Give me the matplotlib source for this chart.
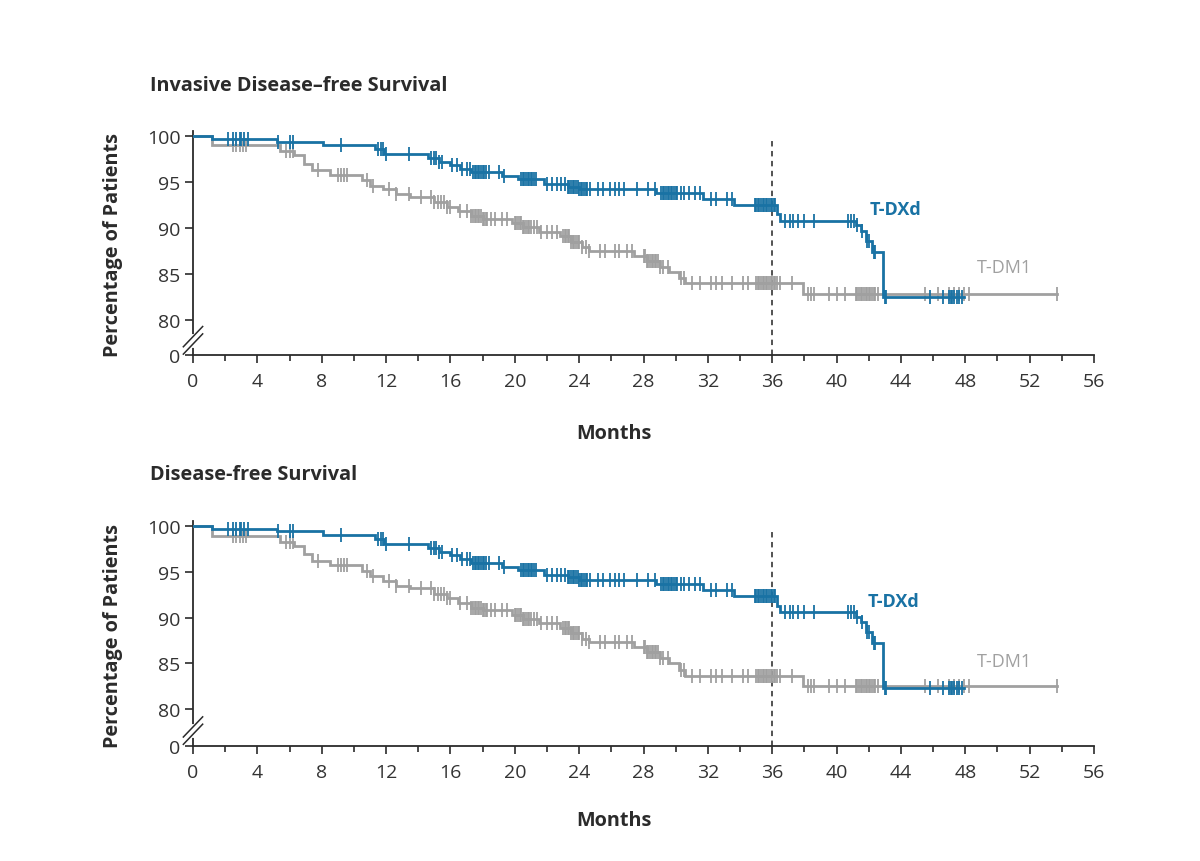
import numpy as np
import matplotlib
matplotlib.use("Agg")
import matplotlib.pyplot as plt

plt.rcParams['font.family'] = ['Open Sans', 'DejaVu Sans']

BLUE = '#1972a4'
GREY = '#a0a0a0'
INK = '#2b2b2b'

# ---------------- Data ----------------
panel_titles = ["Invasive Disease\u2013free Survival", "Disease-free Survival"]
x_ticks = [0, 4, 8, 12, 16, 20, 24, 28, 32, 36, 40, 44, 48, 52, 56]
y_ticks = [80, 85, 90, 95, 100]
group_labels = ["T-DXd", "T-DM1"]

# Panel 1: Invasive disease-free survival
idfs_tdxd_t = [0, 1.2, 5.2, 8.1, 11.3, 11.9, 14.6, 15.3, 16.0, 16.6, 17.3, 19.2, 20.2, 21.8, 23.3, 24.0,
               28.8, 31.7, 33.6, 36.3, 36.5, 41.2, 41.5, 41.8, 42.2, 42.9, 47.9]
idfs_tdxd_s = [100, 99.7, 99.4, 99.0, 98.6, 98.0, 97.6, 97.2, 96.8, 96.4, 96.1, 95.6, 95.3, 94.8, 94.5, 94.2,
               93.8, 93.1, 92.5, 91.5, 90.8, 90.3, 89.7, 88.6, 87.4, 82.5, 82.5]
idfs_tdm1_t = [0, 1.2, 5.4, 6.3, 6.9, 7.4, 8.5, 10.5, 11.0, 11.8, 12.6, 13.5, 15.0, 15.8, 16.5, 17.3, 18.0,
               19.8, 20.5, 21.5, 22.8, 23.5, 24.2, 24.6, 27.4, 28.2, 29.0, 29.6, 30.2, 30.6, 37.9, 53.7]
idfs_tdm1_s = [100, 99.0, 98.4, 97.9, 97.0, 96.3, 95.8, 95.2, 94.6, 94.2, 93.7, 93.4, 92.8, 92.3, 91.8, 91.3, 91.0,
               90.5, 90.1, 89.6, 89.1, 88.5, 87.9, 87.5, 87.0, 86.4, 85.8, 85.2, 84.6, 84.0, 82.8, 82.8]

# Panel 2: Disease-free survival
dfs_tdxd_t = [0, 1.2, 5.2, 8.1, 11.3, 11.9, 14.6, 15.3, 16.0, 16.6, 17.3, 19.2, 20.2, 21.8, 23.3, 24.0,
              28.8, 31.7, 33.6, 36.3, 36.5, 41.2, 41.5, 41.8, 42.2, 42.9, 47.9]
dfs_tdxd_s = [100, 99.7, 99.4, 99.0, 98.6, 98.0, 97.6, 97.2, 96.8, 96.4, 96.0, 95.5, 95.2, 94.7, 94.4, 94.1,
              93.7, 93.0, 92.4, 91.3, 90.6, 90.1, 89.5, 88.4, 87.2, 82.3, 82.3]
dfs_tdm1_t = [0, 1.2, 5.4, 6.3, 6.9, 7.4, 8.5, 10.5, 11.0, 11.8, 12.6, 13.5, 15.0, 15.8, 16.5, 17.3, 18.0,
              19.8, 20.5, 21.5, 22.8, 23.5, 24.2, 24.6, 27.4, 28.2, 29.0, 29.6, 30.2, 30.6, 37.9, 53.7]
dfs_tdm1_s = [100, 98.9, 98.3, 97.8, 96.9, 96.2, 95.7, 95.1, 94.5, 94.0, 93.5, 93.2, 92.6, 92.1, 91.6, 91.1, 90.8,
              90.3, 89.9, 89.4, 88.9, 88.3, 87.7, 87.3, 86.8, 86.2, 85.6, 85.0, 84.3, 83.6, 82.5, 82.5]

# Censoring times (tick marks)
tdxd_censor = [2.2, 2.5, 2.7, 2.9, 3.0, 3.2, 3.4, 5.3, 6.0, 6.2, 9.2, 11.5, 11.7, 11.8, 12.0, 13.4,
               14.8, 15.0, 15.1, 15.3, 15.5, 16.1, 16.4, 16.7, 17.0, 17.2, 17.4, 17.5, 17.6, 17.7, 17.8,
               17.9, 18.0, 18.1, 18.2, 18.4, 19.0, 19.3, 20.4, 20.5, 20.6, 20.7, 20.8, 20.9, 21.0, 21.1,
               21.2, 21.3, 22.0, 22.3, 22.6, 22.9, 23.1, 23.3, 23.4, 23.5, 23.6, 23.7, 23.8, 23.9, 24.0,
               24.1, 24.2, 24.3, 24.4, 24.5, 24.7, 25.2, 25.5, 25.9, 26.2, 26.5, 26.8, 27.6, 28.3, 28.7,
               29.1, 29.2, 29.3, 29.4, 29.5, 29.6, 29.7, 29.8, 29.9, 30.0, 30.1, 30.3, 30.5, 30.8, 31.2,
               31.5, 32.2, 32.5, 33.2, 33.5, 34.9, 35.0, 35.1, 35.2, 35.3, 35.4, 35.5, 35.6, 35.7, 35.8,
               35.9, 36.0, 36.1, 36.2, 36.8, 37.1, 37.3, 37.6, 38.0, 38.6, 40.7, 40.9, 41.1, 41.3, 41.6,
               41.9, 42.0, 42.3, 42.4, 43.0, 43.1, 45.8, 46.6, 47.0, 47.1, 47.2, 47.3, 47.5, 47.6, 47.8]
tdm1_censor = [2.5, 2.7, 2.9, 3.1, 3.3, 5.8, 6.0, 6.2, 7.8, 9.0, 9.2, 9.4, 9.6, 10.8, 11.2, 12.2,
               12.6, 13.4, 14.2, 14.8, 15.0, 15.2, 15.4, 15.6, 15.8, 16.0, 16.6, 17.0, 17.3, 17.4, 17.5,
               17.6, 17.7, 17.8, 17.9, 18.0, 18.1, 18.2, 18.3, 18.5, 18.8, 19.2, 19.5, 20.0, 20.1, 20.2,
               20.3, 20.4, 20.5, 20.6, 20.7, 20.8, 20.9, 21.0, 21.2, 21.4, 21.6, 22.0, 22.3, 22.6, 23.0,
               23.1, 23.2, 23.3, 23.4, 23.5, 23.6, 23.7, 23.8, 23.9, 24.0, 24.2, 24.4, 24.6, 25.3, 25.6,
               26.2, 26.5, 27.0, 27.3, 28.0, 28.1, 28.2, 28.3, 28.4, 28.5, 28.6, 28.7, 28.8, 28.9, 29.0,
               29.2, 29.5, 30.3, 30.5, 31.0, 31.5, 32.2, 32.5, 32.9, 33.5, 34.2, 34.5, 35.0, 35.1, 35.2,
               35.3, 35.4, 35.5, 35.6, 35.7, 35.8, 35.9, 36.0, 36.1, 36.2, 36.3, 36.5, 37.2, 38.2, 38.4,
               38.6, 39.5, 40.0, 40.5, 41.2, 41.3, 41.4, 41.5, 41.6, 41.7, 41.8, 41.9, 42.0, 42.1, 42.2,
               42.3, 42.4, 42.6, 45.5, 46.3, 47.0, 47.3, 47.6, 47.9, 48.2, 53.7]

panels = [
    dict(title=panel_titles[0], tdxd=(idfs_tdxd_t, idfs_tdxd_s), tdm1=(idfs_tdm1_t, idfs_tdm1_s),
         ybase=76.2, lab_tdxd=(42.05, 92.05), lab_tdm1=(48.7, 85.8)),
    dict(title=panel_titles[1], tdxd=(dfs_tdxd_t, dfs_tdxd_s), tdm1=(dfs_tdm1_t, dfs_tdm1_s),
         ybase=76.0, lab_tdxd=(41.95, 91.8), lab_tdm1=(48.7, 85.25)),
]

# ---------------- Figure ----------------
fig = plt.figure(figsize=(12, 8.62), dpi=100)
W, H = 1200.0, 862.0

# axes boxes in pixels: (left, bottom_px, right, top_px)
boxes = [(193, 356, 1094, 132.4), (193, 747, 1094, 522.4)]
title_y = [86, 475]
months_y = [434, 821]
ylabel_y = [245, 636]


def step_value(t_arr, s_arr, t):
    idx = np.searchsorted(np.asarray(t_arr), t, side='right') - 1
    idx = np.clip(idx, 0, len(s_arr) - 1)
    return np.asarray(s_arr)[idx]


for p, box, ty, my, yly in zip(panels, boxes, title_y, months_y, ylabel_y):
    l, b, r, t = box
    ax = fig.add_axes([l / W, 1 - b / H, (r - l) / W, (b - t) / H])
    ybase = p['ybase']

    for key, color, cens in (('tdm1', GREY, tdm1_censor), ('tdxd', BLUE, tdxd_censor)):
        tt, ss = p[key]
        ax.step(tt, ss, where='post', color=color, lw=2.0, solid_joinstyle='miter', zorder=3)
        ct = [c for c in cens if c <= tt[-1]]
        cy = step_value(tt, ss, np.array(ct))
        ax.plot(ct, cy, ls='none', marker='|', ms=10, mew=1.3, color=color, zorder=3)

    ax.axvline(36, ymin=0, ymax=(99.8 - ybase) / (100.5 - ybase), color='#444444', lw=1.3,
               ls=(0, (3, 2.5)), zorder=2)

    ax.set_xlim(0, 56)
    ax.set_ylim(ybase, 100.5)
    for s in ('top', 'right'):
        ax.spines[s].set_visible(False)
    for s in ('left', 'bottom'):
        ax.spines[s].set_color(INK)
        ax.spines[s].set_linewidth(1.3)

    ax.set_xticks(x_ticks)
    ax.set_xticklabels([str(v) for v in x_ticks])
    ax.set_xticks([v + 2 for v in x_ticks[:-1]], minor=True)
    ax.set_yticks([ybase] + y_ticks)
    ax.set_yticklabels(['0'] + [str(v) for v in y_ticks])
    ax.tick_params(axis='both', which='major', direction='out', length=6, width=1.2,
                   color=INK, labelcolor='#333333', labelsize=14, pad=3)
    ax.tick_params(axis='x', which='major', pad=6)
    ax.tick_params(axis='x', which='minor', direction='out', length=4, width=1.2, color=INK)

    # axis break marks on y axis
    yb0 = ybase + (80 - ybase) * 0.42
    dx, dy = 0.6, 1.1
    ax.plot([0, 0], [yb0 - 0.5, yb0 + 0.5], color='white', lw=3.5, clip_on=False, zorder=5)
    for off in (-0.4, 0.4):
        ax.plot([-dx, dx], [yb0 + off - dy, yb0 + off + dy], color=INK, lw=1.1,
                clip_on=False, zorder=6)

    ax.text(p['lab_tdxd'][0], p['lab_tdxd'][1], group_labels[0], color=BLUE, fontsize=13,
            fontweight='bold', va='center', ha='left')
    ax.text(p['lab_tdm1'][0], p['lab_tdm1'][1], group_labels[1], color=GREY, fontsize=13,
            va='center', ha='left')

    fig.text(150 / W, 1 - ty / H, p['title'], fontsize=14.3, fontweight='bold', color=INK,
             va='center', ha='left')
    fig.text(614 / W, 1 - my / H, 'Months', fontsize=14.3, fontweight='bold', color=INK,
             va='center', ha='center')
    fig.text(113 / W, 1 - yly / H, 'Percentage of Patients', fontsize=14.3, fontweight='bold',
             color=INK, va='center', ha='center', rotation=90)

fig.savefig('out.png', dpi=100, facecolor='white')
